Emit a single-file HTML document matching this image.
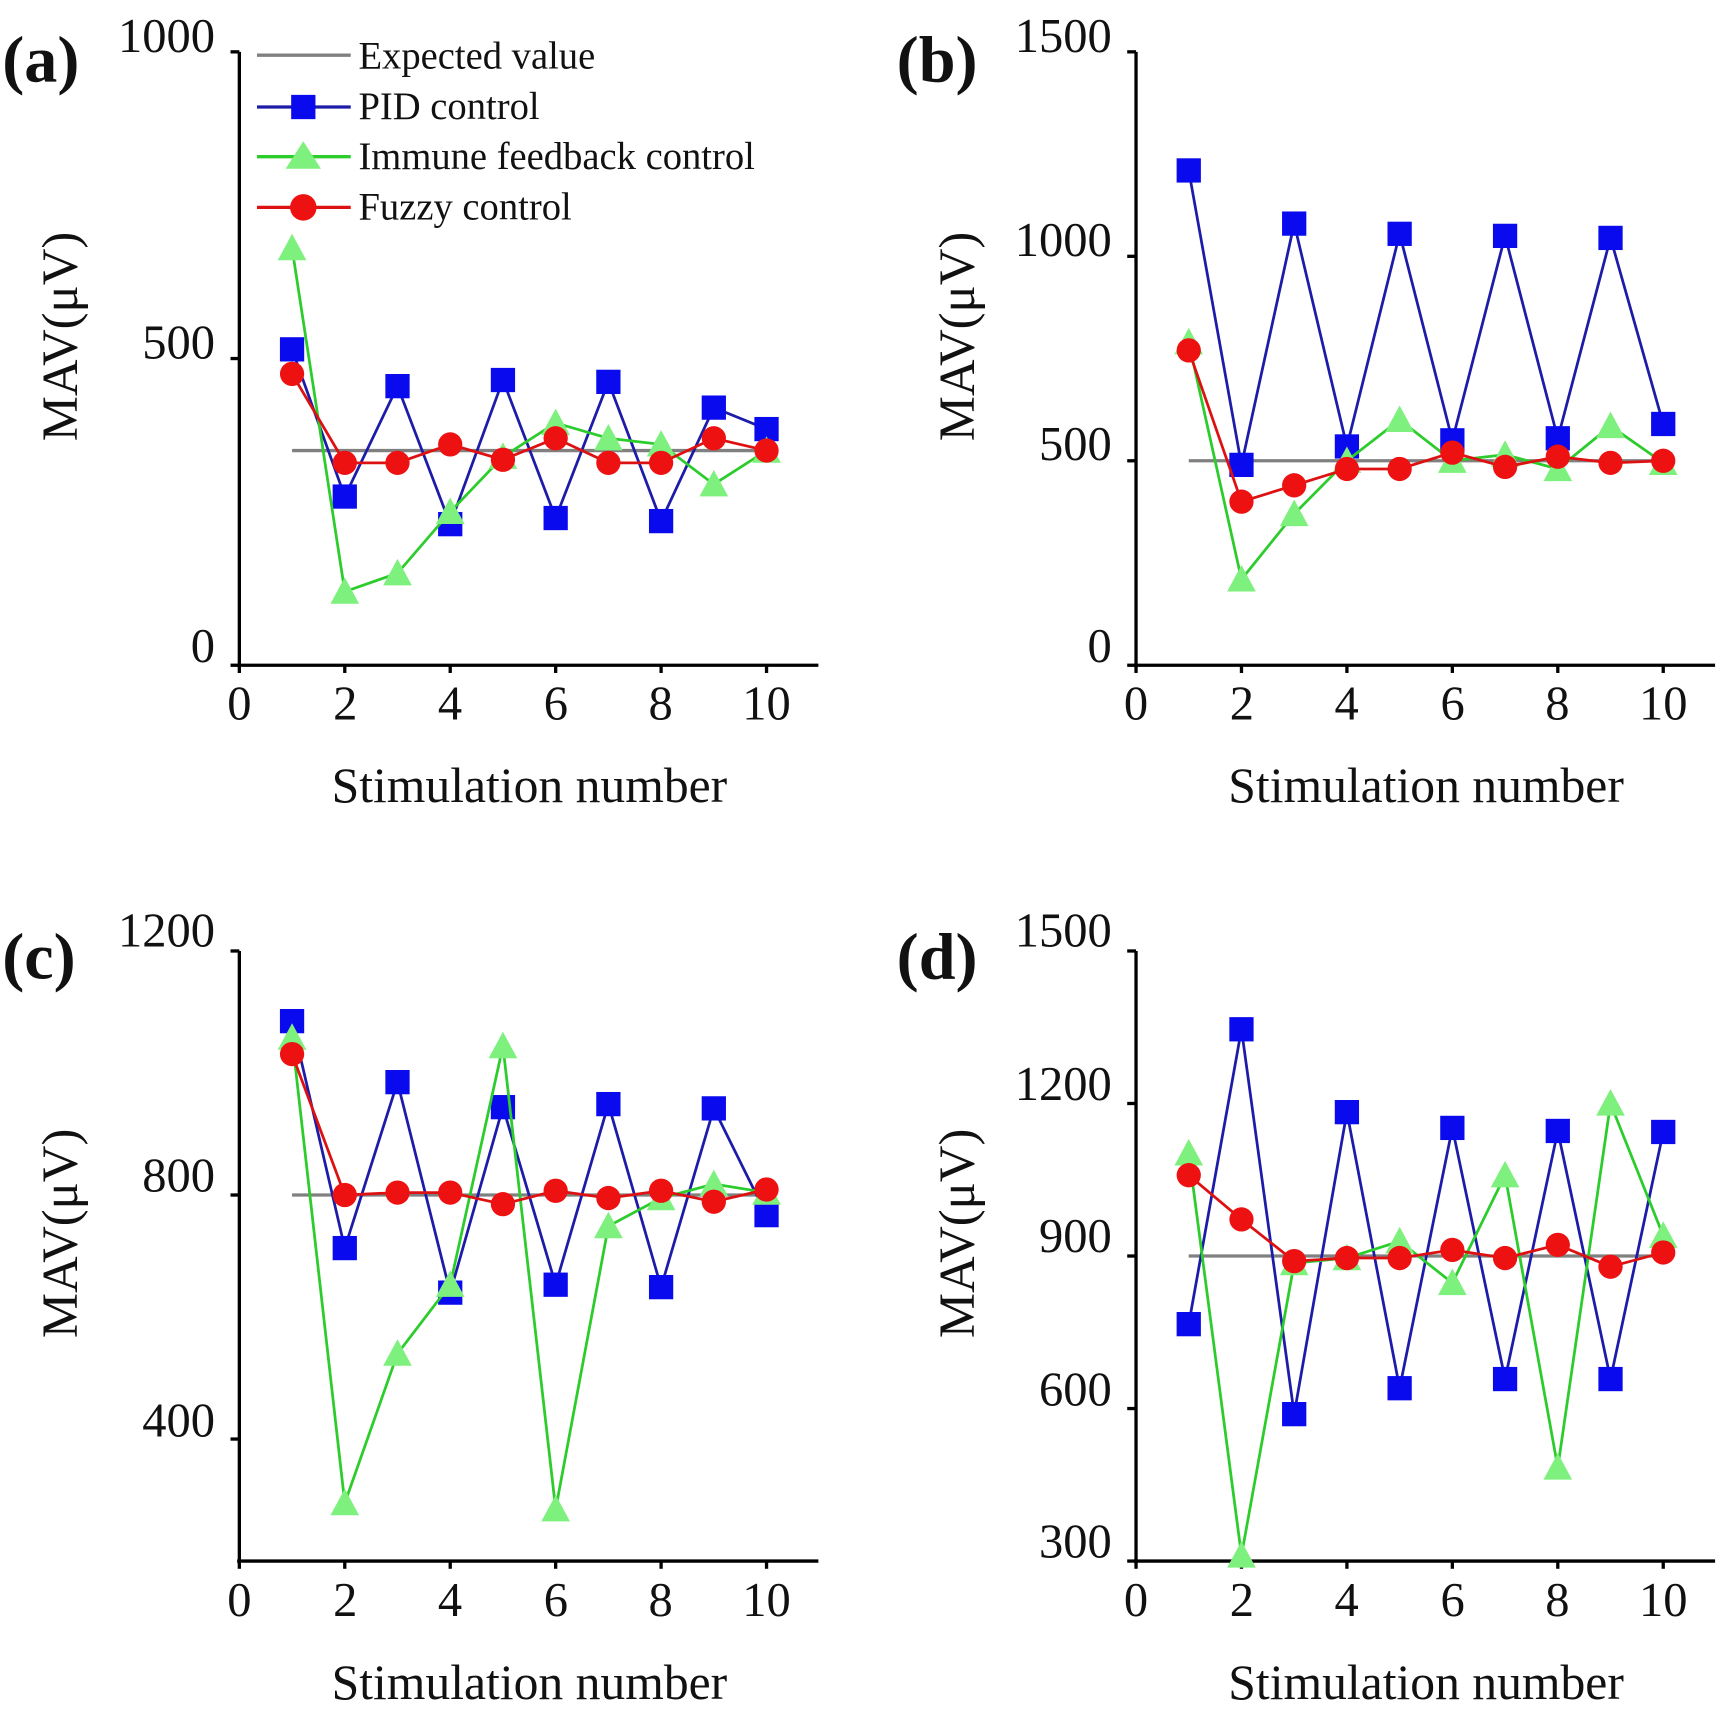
<!DOCTYPE html>
<html><head><meta charset="utf-8"><style>
html,body{margin:0;padding:0;background:#fff;}
svg{display:block;}
text{font-family:"Liberation Serif",serif;fill:#111;}
</style></head><body>
<svg id="s" width="1725" height="1710" viewBox="0 0 1564 1550" preserveAspectRatio="none" xmlns="http://www.w3.org/2000/svg">
<g font-size="44">
<text x="2" y="74" font-size="60" font-weight="bold">(a)</text>
<text x="813" y="74" font-size="60" font-weight="bold">(b)</text>
<text x="2" y="887" font-size="60" font-weight="bold">(c)</text>
<text x="813" y="887" font-size="60" font-weight="bold">(d)</text>
<g text-anchor="end">
<text x="195" y="47">1000</text><text x="195" y="325">500</text><text x="195" y="600">0</text>
<text x="1008" y="47">1500</text><text x="1008" y="232">1000</text><text x="1008" y="417">500</text><text x="1008" y="600">0</text>
<text x="195" y="858">1200</text><text x="195" y="1080">800</text><text x="195" y="1302">400</text>
<text x="1008" y="858">1500</text><text x="1008" y="997">1200</text><text x="1008" y="1135">900</text><text x="1008" y="1274">600</text><text x="1008" y="1412">300</text>
</g>
<g text-anchor="middle">
<text x="217" y="652">0</text><text x="313" y="652">2</text><text x="408" y="652">4</text><text x="504" y="652">6</text><text x="599" y="652">8</text><text x="695" y="652">10</text>
<text x="1030" y="652">0</text><text x="1126" y="652">2</text><text x="1221" y="652">4</text><text x="1317" y="652">6</text><text x="1412" y="652">8</text><text x="1508" y="652">10</text>
<text x="217" y="1465">0</text><text x="313" y="1465">2</text><text x="408" y="1465">4</text><text x="504" y="1465">6</text><text x="599" y="1465">8</text><text x="695" y="1465">10</text>
<text x="1030" y="1465">0</text><text x="1126" y="1465">2</text><text x="1221" y="1465">4</text><text x="1317" y="1465">6</text><text x="1412" y="1465">8</text><text x="1508" y="1465">10</text>
<g font-size="45">
<text x="480" y="727">Stimulation number</text><text x="1293" y="727">Stimulation number</text>
<text x="480" y="1540">Stimulation number</text><text x="1293" y="1540">Stimulation number</text>
</g>
<g font-size="46">
<text transform="translate(70,305) rotate(-90)">MAV(μV)</text>
<text transform="translate(883,305) rotate(-90)">MAV(μV)</text>
<text transform="translate(70,1118) rotate(-90)">MAV(μV)</text>
<text transform="translate(883,1118) rotate(-90)">MAV(μV)</text>
</g>
</g>
<g font-size="35">
<text x="325" y="62">Expected value</text>
<text x="325" y="108">PID control</text>
<text x="325" y="153">Immune feedback control</text>
<text x="325" y="199">Fuzzy control</text>
</g>
</g>
<g id="plots"></g>
</svg>
<script>
var NS="http://www.w3.org/2000/svg",P=document.getElementById("plots");
function el(t,a){var e=document.createElementNS(NS,t);for(var k in a)e.setAttribute(k,a[k]);P.appendChild(e);return e;}
var panels=[
{x0:217,y0:603,y1:47,lo:0,hi:1000,ticks:[0,500,1000],exp:350,
 b:[515,275,455,230,465,240,462,235,420,385],g:[680,120,150,250,340,395,370,360,295,350],r:[475,330,330,360,335,370,330,330,370,350]},
{x0:1030,y0:603,y1:47,lo:0,hi:1500,ticks:[0,500,1000,1500],exp:500,
 b:[1210,490,1080,535,1055,550,1050,555,1045,590],g:[790,210,370,500,600,500,515,480,585,495],r:[770,400,440,480,480,520,485,510,495,500]},
{x0:217,y0:1415,y1:862,lo:200,hi:1200,ticks:[400,800,1200],exp:800,
 b:[1085,713,985,640,944,653,949,649,942,767],g:[1058,295,540,653,1044,285,749,795,818,804],r:[1031,800,804,804,785,807,795,807,789,809]},
{x0:1030,y0:1415,y1:862,lo:300,hi:1500,ticks:[300,600,900,1200,1500],exp:900,
 b:[766,1346,589,1183,640,1152,658,1146,658,1144],g:[1102,311,886,896,929,847,1059,484,1200,940],r:[1059,972,890,896,896,912,896,922,879,907]}];
var sx=47.8;
panels.forEach(function(p){
 function Y(v){return p.y0-(v-p.lo)/(p.hi-p.lo)*(p.y0-p.y1);}
 function X(i){return p.x0+i*sx;}
 el("line",{x1:p.x0,y1:p.y1,x2:p.x0,y2:p.y0+2,stroke:"#000","stroke-width":3});
 el("line",{x1:p.x0-2,y1:p.y0,x2:p.x0+525,y2:p.y0,stroke:"#000","stroke-width":3});
 p.ticks.forEach(function(t){el("line",{x1:p.x0-8,y1:Y(t),x2:p.x0,y2:Y(t),stroke:"#000","stroke-width":3});});
 for(var i=0;i<=10;i+=2)el("line",{x1:X(i),y1:p.y0,x2:X(i),y2:p.y0+7,stroke:"#000","stroke-width":3});
 el("line",{x1:X(1),y1:Y(p.exp),x2:X(10),y2:Y(p.exp),stroke:"#808080","stroke-width":3});
 function pts(a){return a.map(function(v,i){return X(i+1)+","+Y(v);}).join(" ");}
 el("polyline",{points:pts(p.b),fill:"none",stroke:"#1c1ca8","stroke-width":2.5});
 p.b.forEach(function(v,i){el("rect",{x:X(i+1)-11,y:Y(v)-11,width:22,height:22,fill:"#0a0aee"});});
 el("polyline",{points:pts(p.g),fill:"none",stroke:"#2ccc2c","stroke-width":2.5});
 p.g.forEach(function(v,i){var x=X(i+1),y=Y(v);el("polygon",{points:(x-13)+","+(y+11)+" "+(x+13)+","+(y+11)+" "+x+","+(y-13),fill:"#7ef07e"});});
 el("polyline",{points:pts(p.r),fill:"none",stroke:"#dd1111","stroke-width":2.5});
 p.r.forEach(function(v,i){el("circle",{cx:X(i+1),cy:Y(v),r:11,fill:"#ee1111"});});
});
var L=[[50,"#808080",null],[97,"#1c1ca8","s"],[142,"#2ccc2c","t"],[188,"#dd1111","c"]];
L.forEach(function(l){el("line",{x1:233,y1:l[0],x2:318,y2:l[0],stroke:l[1],"stroke-width":3});
 var x=275,y=l[0];
 if(l[2]=="s")el("rect",{x:x-11,y:y-11,width:22,height:22,fill:"#0a0aee"});
 if(l[2]=="t")el("polygon",{points:(x-16)+","+(y+11)+" "+(x+16)+","+(y+11)+" "+x+","+(y-14),fill:"#7ef07e"});
 if(l[2]=="c")el("circle",{cx:x,cy:y,r:12,fill:"#ee1111"});});
</script>
</body></html>
